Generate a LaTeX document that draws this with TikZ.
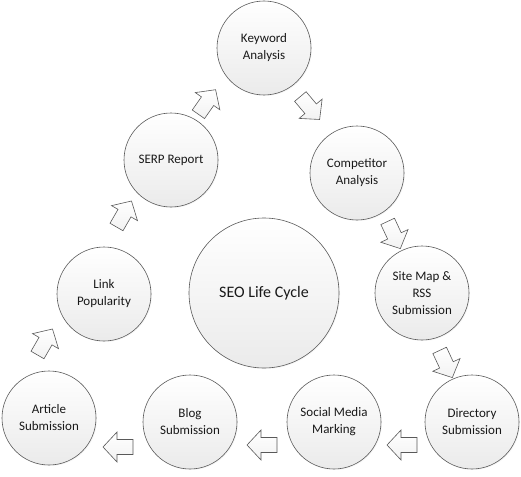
\documentclass[tikz,border=0pt]{standalone}
\usepackage{fontspec}
\setmainfont{Carlito}
\usetikzlibrary{shadows}
\begin{document}
\begin{tikzpicture}[x=1pt,y=-1pt,
  stage/.style={circle, draw=black!65, line width=0.6pt, top color=white, bottom color=black!8,
    minimum size=94pt, inner sep=0pt, align=center,
    font=\fontsize{13}{17}\selectfont, text=black!90,
    drop shadow={shadow xshift=1pt, shadow yshift=-1pt, opacity=0.08}},
  hub/.style={stage, minimum size=150pt, font=\fontsize{16}{19}\selectfont},
  blockarrow/.style={draw=black!65, line width=0.6pt, top color=white, bottom color=black!5, line join=miter}
]
\useasboundingbox (0,0) rectangle (521,476);
\node[stage] (kw)   at (264,48)  {Keyword\\Analysis};
\node[stage] (comp) at (357,173) {Competitor\\Analysis};
\node[stage] (serp) at (171,160) {SERP Report};
\node[stage] (link) at (104,294) {Link\\Popularity};
\node[hub]   (seo)  at (264,293) {SEO Life Cycle};
\node[stage] (site) at (422,293) {Site Map \&\\RSS\\Submission};
\node[stage] (dir)  at (472,422) {Directory\\Submission};
\node[stage] (soc)  at (334,422) {Social Media\\Marking};
\node[stage] (blog) at (190,422) {Blog\\Submission};
\node[stage] (art)  at (49,418)  {Article\\Submission};

\newcommand{\blockarr}[3]{%
  \draw[blockarrow, shift={(#1,#2)}, rotate=#3]
    (-15,-7.5) -- (1,-7.5) -- (1,-15) -- (15,0) -- (1,15) -- (1,7.5) -- (-15,7.5) -- cycle;}
\blockarr{207}{102}{55}
\blockarr{310}{108}{-50}
\blockarr{394}{235}{-65}
\blockarr{446}{364}{-65}
\blockarr{402}{445}{180}
\blockarr{262}{445}{180}
\blockarr{118}{447}{180}
\blockarr{45}{342}{60}
\blockarr{124}{214}{60}
\end{tikzpicture}
\end{document}
